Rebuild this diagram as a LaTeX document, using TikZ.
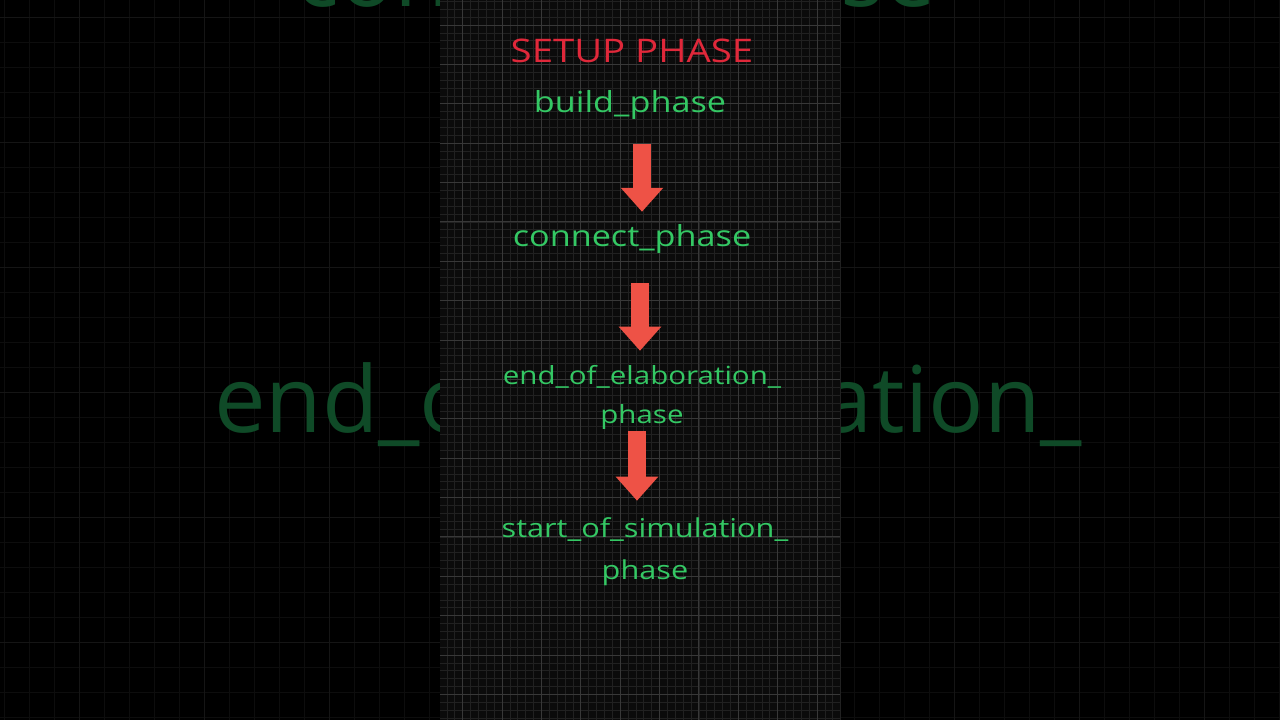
\documentclass[tikz,border=0pt]{standalone}
\usepackage{fontspec}
\setmainfont{Open Sans}[FakeStretch=1.18]
\newfontfamily\ghostfont{Open Sans}
\usetikzlibrary{arrows.meta}

\definecolor{phasegreen}{HTML}{34C864}
\definecolor{setupred}{HTML}{E0283A}
\definecolor{arrowred}{HTML}{EE5246}
\definecolor{ghostgreen}{HTML}{0F4A27}
\definecolor{panelbg}{HTML}{0B0B0B}
\definecolor{gridminor}{HTML}{212121}
\definecolor{gridmajor}{HTML}{383838}
\definecolor{ghostminor}{HTML}{0D0D0D}
\definecolor{ghostmajor}{HTML}{151515}

\begin{document}
\begin{tikzpicture}[x=1pt,y=-1pt]
    \tikzstyle{every node}+=[inner sep=0pt]
    \tikzstyle{phase}=[text=phasegreen, font=\fontsize{29}{40}\selectfont, align=center]
    \tikzstyle{ghost}=[text=ghostgreen, font=\ghostfont\fontsize{92}{110}\selectfont, anchor=base]
    \tikzstyle{flow}=[draw=arrowred, line width=18.5pt, -{Triangle[width=41pt,length=24pt]}]
    \useasboundingbox (0,0) rectangle (1280,720);
    \fill [black] (0,0) rectangle (1280,720);
    \foreach \i in {0,...,51} \draw [ghostminor, line width=0.8pt] (4+\i*25,0) -- (4+\i*25,720);
    \foreach \i in {0,...,28} \draw [ghostminor, line width=0.8pt] (0,17+\i*25) -- (1280,17+\i*25);
    \foreach \i in {0,...,10} \draw [ghostmajor, line width=1pt] (79+\i*125,0) -- (79+\i*125,720);
    \foreach \i in {0,...,5} \draw [ghostmajor, line width=1pt] (0,17+\i*125) -- (1280,17+\i*125);
    \node [ghost] (ghostconnect) at (616,6) {connect\_phase};
    \node [ghost] (ghostelab) at (648,432) {end\_of\_elaboration\_};
    \fill [panelbg] (440,0) rectangle (840,720);
    \foreach \i in {-7,...,43} \draw [gridminor, line width=0.6pt] (502+\i*7.875,0) -- (502+\i*7.875,720);
    \foreach \i in {0,...,91} \draw [gridminor, line width=0.6pt] (440,1.375+\i*7.875) -- (840,1.375+\i*7.875);
    \foreach \i in {0,...,9} \draw [gridmajor, line width=0.8pt] (462.625+\i*39.375,0) -- (462.625+\i*39.375,720);
    \foreach \i in {0,...,17} \draw [gridmajor, line width=0.8pt] (440,25+\i*39.375) -- (840,25+\i*39.375);
    \node [text=setupred, font=\fontsize{32.5}{40}\selectfont, anchor=base] (setup) at (632,62) {SETUP PHASE};
    \node [phase, anchor=base] (build) at (630,112) {build\_phase};
    \node [phase, anchor=base] (connect) at (632,246) {connect\_phase};
    \node [phase, font=\fontsize{25}{39}\selectfont] (elab) at (642,397) {end\_of\_elaboration\_\\phase};
    \node [phase, font=\fontsize{26}{42}\selectfont] (startsim) at (645,552) {start\_of\_simulation\_\\phase};
    \draw [flow, shorten <=25pt, shorten >=12pt] ([xshift=12pt]build.south) -- ([xshift=10pt]connect.north);
    \draw [flow, shorten <=30pt, shorten >=14pt] ([xshift=8pt]connect.south) -- ([xshift=-2pt]elab.north);
    \draw [flow, shorten <=2pt, shorten >=17pt] ([xshift=-5pt]elab.south) -- ([xshift=-8pt]startsim.north);
\end{tikzpicture}
\end{document}
